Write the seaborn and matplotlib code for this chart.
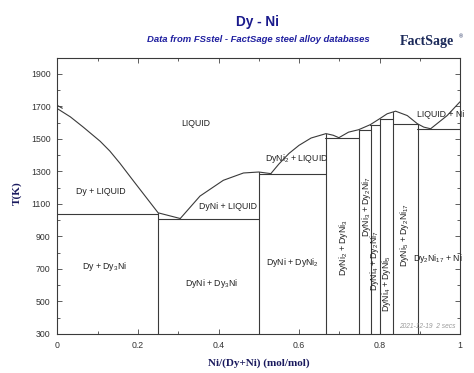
import matplotlib
matplotlib.use("Agg")
import matplotlib.pyplot as plt
import seaborn as sns
import pandas as pd

# ---------------- data ----------------
# liquidus curves
liq_dy_x = [0.0, 0.032, 0.064, 0.106, 0.13, 0.155, 0.189, 0.25, 0.305]
liq_dy_T = [1685, 1635, 1572, 1485, 1425, 1350, 1240, 1045, 1010]
liq_dyni_x = [0.305, 0.354, 0.412, 0.462, 0.5, 0.53]
liq_dyni_T = [1010, 1148, 1245, 1290, 1296, 1286]
liq_dyni2_x = [0.53, 0.55, 0.575, 0.60, 0.63, 0.667, 0.685, 0.699]
liq_dyni2_T = [1286, 1345, 1410, 1460, 1505, 1532, 1522, 1507]
liq_mid_x = [0.699, 0.723, 0.748, 0.777, 0.8, 0.819, 0.84, 0.869, 0.894, 0.91, 0.927]
liq_mid_T = [1507, 1541, 1556, 1587, 1623, 1654, 1670, 1643, 1593, 1572, 1562]
liq_ni_x = [0.927, 0.968, 1.0]
liq_ni_T = [1562, 1643, 1728]
dy_bcc_x = [0.0, 0.012]
dy_bcc_T = [1705, 1688]

# invariant (horizontal) lines
inv_x0 = [0.0, 0.25, 0.5, 0.665, 0.748, 0.777, 0.8, 0.833, 0.894]
inv_x1 = [0.25, 0.5, 0.667, 0.75, 0.778, 0.8, 0.833, 0.895, 1.0]
inv_T = [1040, 1010, 1286, 1507, 1556, 1587, 1623, 1593, 1562]

# compounds (vertical lines)
cmp_x = [0.25, 0.5, 0.667, 0.75, 0.778, 0.8, 0.833, 0.895]
cmp_top = [1045, 1296, 1532, 1556, 1587, 1623, 1666, 1593]
T_min = 300

# region labels
lab_text = ["LIQUID", "Dy + LIQUID", "Dy + Dy$_3$Ni", "DyNi + LIQUID",
            "DyNi + Dy$_3$Ni", "DyNi$_2$ + LIQUID", "DyNi + DyNi$_2$",
            "DyNi$_2$ + DyNi$_3$", "DyNi$_3$ + Dy$_2$Ni$_7$",
            "DyNi$_4$ + Dy$_2$Ni$_7$", "DyNi$_4$ + DyNi$_5$",
            "DyNi$_5$ + Dy$_2$Ni$_{17}$", "Dy$_2$Ni$_{17}$ + Ni", "LIQUID + Ni"]
lab_x = [0.343, 0.108, 0.116, 0.423, 0.382, 0.594, 0.584,
         0.711, 0.768, 0.787, 0.817, 0.862, 0.944, 0.952]
lab_T = [1594, 1179, 717, 1085, 613, 1380, 742,
         833, 1080, 751, 608, 910, 766, 1650]
lab_rot = [0, 0, 0, 0, 0, 0, 0, 90, 90, 90, 90, 90, 0, 0]

x_ticks = [0, 0.2, 0.4, 0.6, 0.8, 1.0]
x_tick_labels = ["0", "0.2", "0.4", "0.6", "0.8", "1"]
y_ticks = [300, 500, 700, 900, 1100, 1300, 1500, 1700, 1900]

# ---------------- build line table ----------------
rows = []
def add(seg, xs, Ts):
    for xv, tv in zip(xs, Ts):
        rows.append({"seg": seg, "x": xv, "T": tv})

add("liq_dy", liq_dy_x, liq_dy_T)
add("liq_dyni", liq_dyni_x, liq_dyni_T)
add("liq_dyni2", liq_dyni2_x, liq_dyni2_T)
add("liq_mid", liq_mid_x, liq_mid_T)
add("liq_ni", liq_ni_x, liq_ni_T)
add("dy_bcc", dy_bcc_x, dy_bcc_T)
for i, (a, b, t) in enumerate(zip(inv_x0, inv_x1, inv_T)):
    add(f"inv{i}", [a, b], [t, t])
for i, (c, t) in enumerate(zip(cmp_x, cmp_top)):
    add(f"cmp{i}", [c, c], [T_min, t])
df = pd.DataFrame(rows)

# ---------------- plot ----------------
sns.set_style("ticks")
plt.rcParams["font.family"] = ["Liberation Sans", "DejaVu Sans"]
plt.rcParams["mathtext.default"] = "regular"

fig = plt.figure(figsize=(4.74, 3.73), dpi=100)
ax = fig.add_axes([0.1213, 0.1046, 0.8492, 0.7412])

sns.lineplot(data=df, x="x", y="T", units="seg", estimator=None, sort=False,
             color="#3a3a3a", linewidth=0.8, ax=ax, legend=False)

for t, xv, tv, r in zip(lab_text, lab_x, lab_T, lab_rot):
    ax.text(xv, tv, t, ha="center", va="center", rotation=r,
            fontsize=6.3, color="#222222")

ax.set_xlim(0, 1)
ax.set_ylim(300, 2000)
ax.set_xticks(x_ticks)
ax.set_xticklabels(x_tick_labels)
ax.set_xticks([0.1, 0.3, 0.5, 0.7, 0.9], minor=True)
ax.set_yticks(y_ticks)
ax.set_yticks([400, 600, 800, 1000, 1200, 1400, 1600, 1800, 2000], minor=True)
ax.tick_params(which="both", direction="in", top=True, right=True,
               colors="#444444", labelcolor="#333333", labelsize=6.3, width=0.6)
ax.tick_params(which="major", length=3.5, pad=5)
ax.tick_params(which="minor", length=2)
for s in ax.spines.values():
    s.set_color("#3a3a3a")
    s.set_linewidth(0.8)

ax.set_xlabel("Ni/(Dy+Ni) (mol/mol)", family="Liberation Serif",
              fontweight="bold", fontsize=8, color="#1a1a5e", labelpad=6)
ax.set_ylabel("")
fig.text(17 / 474, 1 - 193 / 373, "T(K)", rotation=90, ha="center", va="center",
         family="Liberation Serif", fontweight="bold", fontsize=8, color="#1a1a5e")

ax.text(0.989, 343, "2021-12-19  2 secs", ha="right", va="center",
        fontsize=4.8, style="italic", color="#9a9a9a")

fig.text(258 / 474, 1 - 22 / 373, "Dy - Ni", ha="center", va="center",
         fontsize=9.8, fontweight="bold", color="#1a1a8c")
fig.text(258 / 474, 1 - 39.5 / 373,
         "Data from FSstel - FactSage steel alloy databases",
         ha="center", va="center", fontsize=6.8, fontweight="bold",
         style="italic", color="#2020a0")
fig.text(427 / 474, 1 - 42 / 373, "FactSage", ha="center", va="center",
         family="Liberation Serif", fontsize=10, fontweight="bold",
         color="#1c2a5a")
fig.text(461 / 474, 1 - 37 / 373, "®", ha="center", va="center",
         fontsize=4, color="#1c2a5a")

fig.savefig("out.png", dpi=100)
